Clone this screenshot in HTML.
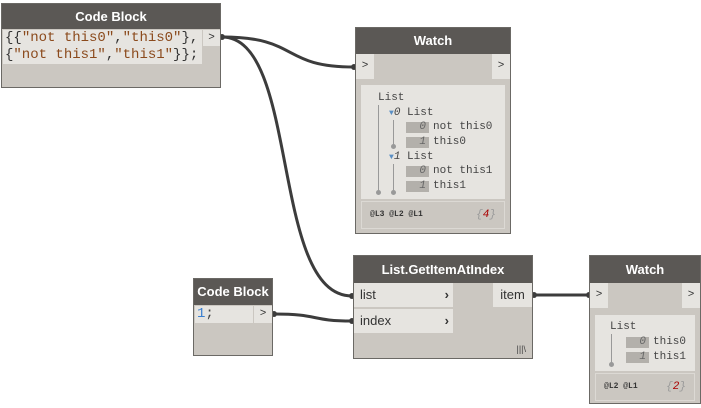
<!DOCTYPE html>
<html><head><meta charset="utf-8"><style>
body{margin:0;width:701px;height:408px;background:#fff;position:relative;overflow:hidden;font-family:"Liberation Sans",sans-serif}
.n{position:absolute;background:#cbc7c1;border:1px solid #6b6965;box-sizing:border-box}
.h{position:absolute;left:0;right:0;top:0;background:#5b5855;color:#fff;font-size:13px;font-weight:bold;text-align:center}
.a{position:absolute;background:#e6e4e0}
.p{position:absolute;background:#e6e4e0;font-size:11px;color:#333;font-family:"Liberation Mono",monospace;text-align:center}
.m{font-family:"Liberation Mono",monospace;position:absolute;font-size:11px;color:#444;white-space:nowrap}
.ix{display:inline-block;background:#b3b0ab;color:#666;font-style:italic;width:20px;text-align:right;padding-right:3px;margin-right:4px;height:11px;line-height:11px}
.l{position:absolute;background:#999;width:1px}
.d{position:absolute;width:5px;height:5px;border-radius:50%;background:#999}
.ft{position:absolute;border:1px solid #dcd9d4;box-sizing:border-box;font-size:8px;color:#333;font-family:"Liberation Mono",monospace}
</style></head><body>
<svg width="701" height="408" style="position:absolute;left:0;top:0">
<g fill="none" stroke="#3c3c3c" stroke-width="3">
<path d="M222 37 C300 37 280 67 354 67"/>
<path d="M222 37 C300 37 270 296 352 296"/>
<path d="M274 314 C320 314 310 321 352 321"/>
<path d="M534 295 L589 295"/>
</g>
<g fill="#3c3c3c"><circle cx="222" cy="37" r="3"/><circle cx="354" cy="67" r="3"/><circle cx="352" cy="296" r="3"/><circle cx="274" cy="314" r="3"/><circle cx="352" cy="321" r="3"/><circle cx="534" cy="295" r="3"/><circle cx="589" cy="295" r="3"/></g>
</svg>

<div class="n" style="left:1px;top:3px;width:220px;height:85px">
<div class="h" style="height:25px;line-height:25px">Code Block</div>
<div class="a" style="left:1px;top:26px;width:199px;height:34px"></div>
<div class="m" style="left:3px;top:26px;font-size:14px;line-height:17px;color:#8b4a1c"><span style="color:#333">{{</span>"not this0"<span style="color:#333">,</span>"this0"<span style="color:#333">},</span><br><span style="color:#333">{</span>"not this1"<span style="color:#333">,</span>"this1"<span style="color:#333">}};</span></div>
<div class="p" style="left:201px;top:26px;width:17px;height:16px;line-height:16px">&gt;</div>
</div>

<div class="n" style="left:355px;top:27px;width:156px;height:207px">
<div class="h" style="height:26px;line-height:26px">Watch</div>
<div class="p" style="left:0;top:26px;width:18px;height:25px;line-height:25px">&gt;</div>
<div class="p" style="left:136px;top:26px;width:18px;height:25px;line-height:25px">&gt;</div>
<div class="a" style="left:5px;top:57px;width:144px;height:114px"></div>
<div class="m" style="left:22px;top:64px">List</div>
<div class="l" style="left:22px;top:77px;height:88px"></div><div class="d" style="left:20px;top:162px"></div>
<div class="m" style="left:33px;top:79px"><span style="color:#5b8fc4;font-size:8px">▼</span><i>0</i> List</div>
<div class="l" style="left:37px;top:92px;height:26px"></div><div class="d" style="left:35px;top:116px"></div>
<div class="m" style="left:50px;top:93px"><span class="ix">0</span>not this0</div>
<div class="m" style="left:50px;top:108px"><span class="ix">1</span>this0</div>
<div class="m" style="left:33px;top:123px"><span style="color:#5b8fc4;font-size:8px">▼</span><i>1</i> List</div>
<div class="l" style="left:37px;top:136px;height:29px"></div><div class="d" style="left:35px;top:162px"></div>
<div class="m" style="left:50px;top:137px"><span class="ix">0</span>not this1</div>
<div class="m" style="left:50px;top:152px"><span class="ix">1</span>this1</div>
<div class="ft" style="left:5px;top:173px;width:144px;height:28px;line-height:26px;padding-left:8px">@<b>L3</b> @<b>L2</b> @<b>L1</b><span style="position:absolute;right:8px;font-size:11px;color:#999;font-style:italic">{<span style="color:#a00">4</span>}</span></div>
</div>

<div class="n" style="left:193px;top:278px;width:80px;height:78px">
<div class="h" style="height:26px;line-height:26px">Code Block</div>
<div class="a" style="left:1px;top:27px;width:58px;height:17px"></div>
<div class="m" style="left:3px;top:27px;font-size:14px;line-height:17px"><span style="color:#3a7fd0">1</span>;</div>
<div class="p" style="left:60px;top:27px;width:18px;height:17px;line-height:17px">&gt;</div>
</div>

<div class="n" style="left:353px;top:255px;width:180px;height:104px">
<div class="h" style="height:27px;line-height:27px">List.GetItemAtIndex</div>
<div class="a" style="left:0;top:27px;width:99px;height:24px;font-size:13px;color:#333;line-height:24px;padding-left:6px;box-sizing:border-box">list<span style="position:absolute;right:4px;font-weight:bold">›</span></div>
<div class="a" style="left:0;top:53px;width:99px;height:24px;font-size:13px;color:#333;line-height:24px;padding-left:6px;box-sizing:border-box">index<span style="position:absolute;right:4px;font-weight:bold">›</span></div>
<div class="a" style="left:139px;top:27px;width:39px;height:24px;font-size:13px;color:#333;line-height:24px;text-align:center">item</div>
<div style="position:absolute;right:6px;bottom:4px;font-size:9px;color:#444">|||\</div>
</div>

<div class="n" style="left:589px;top:255px;width:112px;height:149px">
<div class="h" style="height:27px;line-height:27px">Watch</div>
<div class="p" style="left:0;top:27px;width:18px;height:25px;line-height:25px">&gt;</div>
<div class="p" style="left:92px;top:27px;width:18px;height:25px;line-height:25px">&gt;</div>
<div class="a" style="left:5px;top:59px;width:100px;height:56px"></div>
<div class="m" style="left:20px;top:65px">List</div>
<div class="l" style="left:21px;top:78px;height:30px"></div><div class="d" style="left:19px;top:106px"></div>
<div class="m" style="left:36px;top:80px"><span class="ix">0</span>this0</div>
<div class="m" style="left:36px;top:95px"><span class="ix">1</span>this1</div>
<div class="ft" style="left:5px;top:117px;width:100px;height:28px;line-height:26px;padding-left:8px">@<b>L2</b> @<b>L1</b><span style="position:absolute;right:8px;font-size:11px;color:#999;font-style:italic">{<span style="color:#a00">2</span>}</span></div>
</div>
</body></html>
